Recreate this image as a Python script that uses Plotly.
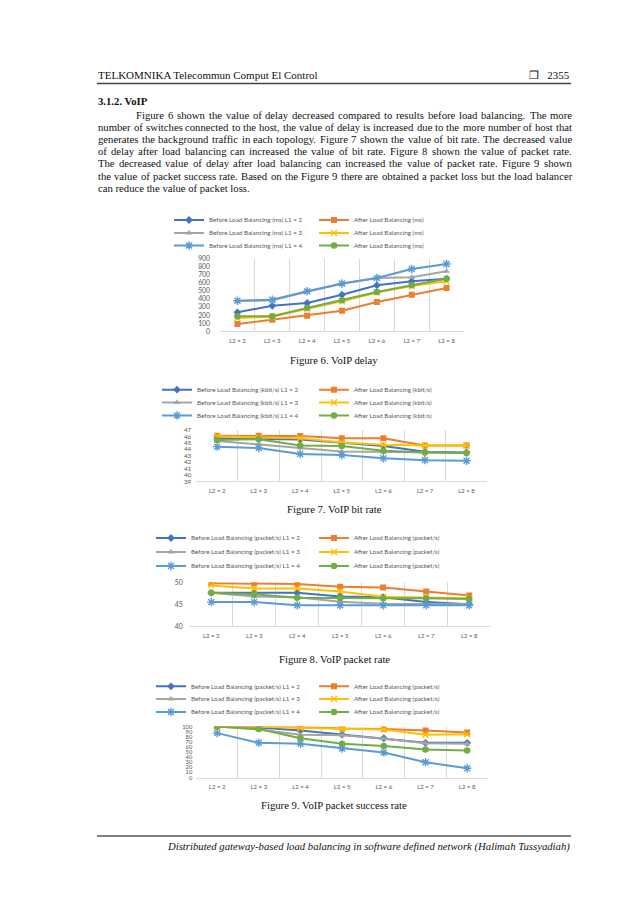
import plotly.graph_objects as go

W, H = 638, 902

categories = ["L2 = 2", "L2 = 3", "L2 = 4", "L2 = 5", "L2 = 6", "L2 = 7", "L2 = 8"]

# Figure 6: VoIP delay (ms)
delay_before_l1_2 = [235, 317, 351, 454, 570, 620, 652]
delay_after_l1_2 = [90, 144, 194, 255, 363, 454, 537]
delay_before_l1_3 = [375, 385, 490, 590, 660, 669, 743]
delay_after_l1_3 = [165, 180, 280, 372, 480, 562, 620]
delay_before_l1_4 = [379, 392, 496, 592, 660, 772, 834]
delay_after_l1_4 = [186, 186, 289, 384, 487, 570, 652]

# Figure 7: VoIP bit rate (kbit/s)
bitrate_before_l1_2 = [45.7, 45.6, 45.5, 45.0, 44.5, 43.6, 43.5]
bitrate_after_l1_2 = [46.1, 46.1, 46.05, 45.7, 45.7, 44.6, 44.6]
bitrate_before_l1_3 = [45.3, 44.8, 44.2, 43.65, 43.55, 43.5, 43.45]
bitrate_after_l1_3 = [46.0, 45.8, 45.7, 45.05, 44.7, 44.6, 44.6]
bitrate_before_l1_4 = [44.4, 44.2, 43.25, 43.1, 42.6, 42.3, 42.2]
bitrate_after_l1_4 = [45.45, 45.55, 44.6, 44.5, 43.75, 43.5, 43.4]

# Figure 8: VoIP packet rate (packet/s)
pktrate_before_l1_2 = [47.6, 47.6, 47.6, 46.8, 46.6, 45.5, 45.0]
pktrate_after_l1_2 = [49.8, 49.7, 49.6, 49.0, 48.8, 47.9, 47.0]
pktrate_before_l1_3 = [47.6, 46.8, 46.6, 45.6, 45.1, 45.0, 45.0]
pktrate_after_l1_3 = [49.3, 48.6, 48.6, 47.9, 46.7, 46.6, 46.4]
pktrate_before_l1_4 = [45.5, 45.5, 44.8, 44.8, 44.8, 44.8, 44.8]
pktrate_after_l1_4 = [47.6, 47.3, 46.5, 46.4, 46.4, 46.4, 46.2]

# Figure 9: VoIP packet success rate
success_before_l1_2 = [100, 98, 92, 84, 77, 68, 68]
success_after_l1_2 = [100, 100, 99, 96, 95, 92, 88]
success_before_l1_3 = [100, 94, 84, 83, 76, 67, 66]
success_after_l1_3 = [100, 100, 97, 95, 94, 84, 85]
success_before_l1_4 = [87, 68, 66, 57, 49, 30, 18]
success_after_l1_4 = [100, 95, 77, 66, 62, 55, 53]

name_templates = [
    "Before Load Balancing ({u}) L1 = 2", "After Load Balancing ({u})",
    "Before Load Balancing ({u}) L1 = 3", "After Load Balancing ({u})",
    "Before Load Balancing ({u}) L1 = 4", "After Load Balancing ({u})",
]

styles = [
    dict(color="#4472C4", symbol="diamond", size=6),
    dict(color="#ED7D31", symbol="square", size=6),
    dict(color="#A5A5A5", symbol="triangle-up", size=6),
    dict(color="#FFC000", symbol="x-thin-open", size=6),
    dict(color="#5B9BD5", symbol="asterisk-open", size=7),
    dict(color="#70AD47", symbol="circle", size=6.5),
]

charts = [
    dict(series=[delay_before_l1_2, delay_after_l1_2, delay_before_l1_3,
                 delay_after_l1_3, delay_before_l1_4, delay_after_l1_4],
         unit="ms", x=(212, 456), y=(250.7, 323.3), yrange=[0, 900], dtick=100,
         rows=(212, 225, 237.5), ew=100, standoff=9, tsize=6.8),
    dict(series=[bitrate_before_l1_2, bitrate_after_l1_2, bitrate_before_l1_3,
                 bitrate_after_l1_3, bitrate_before_l1_4, bitrate_after_l1_4],
         unit="kbit/s", x=(188.3, 479.3), y=(422, 473.3), yrange=[39, 47], dtick=1,
         rows=(381.7, 394.5, 407.5), ew=112, standoff=4, tsize=6.4),
    dict(series=[pktrate_before_l1_2, pktrate_after_l1_2, pktrate_before_l1_3,
                 pktrate_after_l1_3, pktrate_before_l1_4, pktrate_after_l1_4],
         unit="packet/s", x=(181.7, 482.7), y=(574.3, 618.3), yrange=[40, 50], dtick=5,
         rows=(530, 544, 558), ew=118, standoff=6, tsize=6.8),
    dict(series=[success_before_l1_2, success_after_l1_2, success_before_l1_3,
                 success_after_l1_3, success_before_l1_4, success_after_l1_4],
         unit="packet/s", x=(188.3, 480), y=(718.5, 769.5), yrange=[0, 100], dtick=10,
         rows=(678.3, 691, 704), ew=118, standoff=3, tsize=5.8),
]

fig = go.Figure()
layout = dict(
    width=W, height=H,
    margin=dict(l=0, r=0, t=0, b=0, autoexpand=False),
    paper_bgcolor="white", plot_bgcolor="white",
    showlegend=True,
)

LEG_FONT = dict(family="Lato", size=6.3, color="#595959")
AFTER_ITEM_X = 306

for ci, ch in enumerate(charts):
    ax = "" if ci == 0 else str(ci + 1)
    xa, ya = "x" + ax, "y" + ax
    for si, vals in enumerate(ch["series"]):
        st = styles[si]
        lname_i = 3 * ci + si // 2 + 1
        lname = "legend" if lname_i == 1 else "legend%d" % lname_i
        open_sym = st["symbol"].endswith("open")
        marker = dict(symbol=st["symbol"], size=st["size"], color=st["color"],
                      line=dict(width=1.4 if open_sym else 0, color=st["color"]))
        fig.add_trace(go.Scatter(
            x=categories, y=vals, mode="lines+markers",
            name=name_templates[si].format(u=ch["unit"]),
            line=dict(color=st["color"], width=2),
            marker=marker, xaxis=xa, yaxis=ya, legend=lname,
            hoverinfo="skip",
        ))
    x0, x1 = ch["x"]
    y0, y1 = ch["y"]
    layout["xaxis" + ax] = dict(
        domain=[x0 / W, x1 / W], anchor=ya, type="category",
        categoryorder="array", categoryarray=categories,
        range=[-0.5, 6.5], tickson="boundaries",
        showgrid=True, gridcolor="#D9D9D9", gridwidth=1,
        showline=True, linecolor="#D9D9D9", linewidth=1,
        ticks="", tickfont=dict(family="Lato", size=6, color="#595959"),
        ticklabelstandoff=3, fixedrange=True, zeroline=False,
    )
    layout["yaxis" + ax] = dict(
        domain=[1 - y1 / H, 1 - y0 / H], anchor=xa,
        range=ch["yrange"], dtick=ch["dtick"], tick0=0,
        showgrid=False, zeroline=False, showline=False, ticks="",
        tickfont=dict(family="Lato", size=ch["tsize"], color="#595959"),
        ticklabelstandoff=ch["standoff"], fixedrange=True,
    )
    L = AFTER_ITEM_X - 45 - ch["ew"]
    for ri, ry in enumerate(ch["rows"]):
        lname_i = 3 * ci + ri + 1
        key = "legend" if lname_i == 1 else "legend%d" % lname_i
        layout[key] = dict(
            orientation="h", x=L / W, xanchor="left", y=1 - ry / H, yanchor="middle",
            entrywidth=ch["ew"], entrywidthmode="pixels", font=LEG_FONT,
            bgcolor="rgba(0,0,0,0)", borderwidth=0, traceorder="normal",
            itemclick=False, itemdoubleclick=False,
        )

fig.update_layout(**layout)

SERIF = "Liberation Serif"
BODY = 10.7


def text(x, y, s, size=BODY, anchor="left", bold=False, italic=False, color="#111"):
    fig.add_annotation(
        x=x / W, y=1 - y / H, xref="paper", yref="paper", text=s, showarrow=False,
        xanchor=anchor, yanchor="middle", borderpad=0,
        font=dict(family=SERIF, size=size, color=color,
                  weight="bold" if bold else "normal",
                  style="italic" if italic else "normal"),
    )


# Times-Roman advance widths (1/1000 em) used to justify paragraph lines
TW = {" ": 250, ",": 250, ".": 250, "-": 333, "(": 333, ")": 333, "=": 564}
TW.update({d: 500 for d in "0123456789"})
TW.update(dict(zip("abcdefghijklmnopqrstuvwxyz",
                   [444, 500, 444, 500, 444, 333, 500, 500, 278, 278, 500, 278, 778,
                    500, 500, 500, 500, 333, 389, 278, 500, 500, 722, 500, 500, 444])))
TW.update(dict(zip("ABCDEFGHIJKLMNOPQRSTUVWXYZ",
                   [722, 667, 667, 722, 611, 556, 722, 722, 333, 389, 722, 611, 889,
                    722, 722, 556, 722, 667, 556, 611, 722, 722, 944, 722, 722, 611])))


def word_w(w, size):
    return sum(TW.get(c, 500) for c in w) * size / 1000.0


LEFT, RIGHT = 89, 563
text(LEFT, 67, "TELKOMNIKA Telecommun Comput El Control", size=11)
text(RIGHT, 67, "\u2752   2355", size=11, anchor="right")
fig.add_shape(type="line", xref="paper", yref="paper", x0=LEFT / W, x1=RIGHT / W,
              y0=1 - 75.5 / H, y1=1 - 75.5 / H, line=dict(color="#444", width=1.6))

text(LEFT, 93, "3.1.2. VoIP", bold=True)
para = [
    "Figure 6 shown the value of delay decreased compared to results before load balancing. The more",
    "number of switches connected to the host, the value of delay is increased due to the more number of host that",
    "generates the background traffic in each topology. Figure 7 shown the value of bit rate. The decreased value",
    "of delay after load balancing can increased the value of bit rate. Figure 8 shown the value of packet rate.",
    "The decreased value of delay after load balancing can increased the value of packet rate. Figure 9 shown",
    "the value of packet success rate. Based on the Figure 9 there are obtained a packet loss but the load balancer",
    "can reduce the value of packet loss.",
]
for i, line in enumerate(para):
    y = 106.7 + i * 12.2
    start = LEFT + (38 if i == 0 else 0)
    if i == len(para) - 1:
        text(start, y, line)
        continue
    words = line.split(" ")
    widths = [word_w(w, BODY) for w in words]
    gap = (RIGHT - start - sum(widths)) / (len(words) - 1)
    gap = max(gap, 0.18 * BODY)
    xpos = start
    for w, ww in zip(words, widths):
        text(xpos, y, w)
        xpos += ww + gap

captions = [(352, "Figure 6. VoIP delay"), (501, "Figure 7. VoIP bit rate"),
            (651, "Figure 8. VoIP packet rate"), (797, "Figure 9. VoIP packet success rate")]
for cy, ct in captions:
    text(326, cy, ct, anchor="center")

fig.add_shape(type="line", xref="paper", yref="paper", x0=LEFT / W, x1=RIGHT / W,
              y0=1 - 828 / H, y1=1 - 828 / H, line=dict(color="#555", width=1.4))
text(RIGHT, 838, "Distributed gateway-based load balancing in software defined network (Halimah Tussyadiah)",
     anchor="right", italic=True)

fig.write_html("out.html")
